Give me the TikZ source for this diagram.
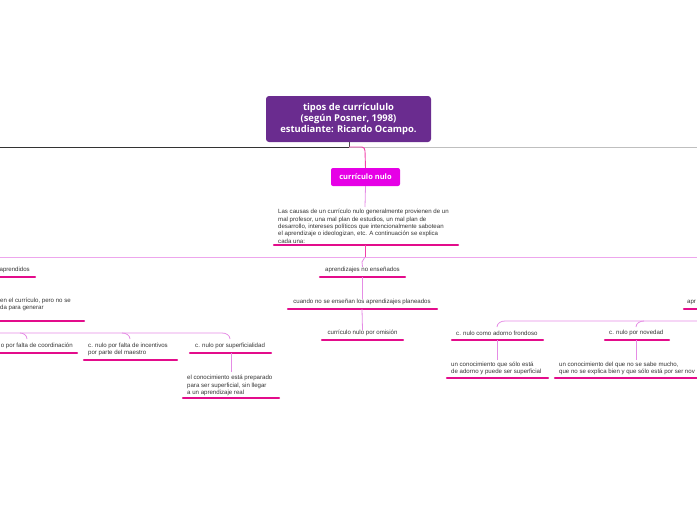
\documentclass[tikz,border=0pt]{standalone}
\usepackage{fontspec}
\setmainfont{Liberation Sans}
\newfontfamily\titlefont{Open Sans}
\begin{document}
\begin{tikzpicture}[x=1pt,y=-1pt,
  txt/.style={inner sep=0pt,font=\fontsize{6.1}{7.4}\selectfont,text=black!80,align=left},
  ul/.style={draw=magenta!90!violet,line width=2.2pt,line cap=round},
  con/.style={draw=violet!45!magenta!45,line width=0.8pt},
  conm/.style={draw=magenta!75,line width=0.9pt}]
\useasboundingbox (0,0) rectangle (697,520);
\clip (0,0) rectangle (697,520);
\definecolor{rootc}{HTML}{6A2C8F}
\definecolor{mag}{HTML}{E600E6}
% root
\node[fill=rootc,rounded corners=3pt,minimum width=165pt,minimum height=46pt,text=white,font=\titlefont\bfseries\fontsize{9.4}{11}\selectfont,align=center,inner sep=0pt] (root) at (348.5,119) {tipos de currícululo\\ (según Posner, 1998)\\ estudiante: Ricardo Ocampo.};
\coordinate (hb) at (349,147);
\coordinate (hl) at (0,147);
\coordinate (hr) at (697,147);
\draw[draw=black!70,line width=0.7pt] (root.south -| hb) -- (hb);
\draw[draw=black!80,line width=0.7pt] (hl) -- (hb);
\draw[draw=black!25,line width=0.7pt] (hb) -- (hr);
% curriculo nulo
\node[fill=mag,rounded corners=2pt,minimum width=69pt,minimum height=18pt,text=white,font=\titlefont\bfseries\fontsize{7.5}{8}\selectfont,inner sep=0pt] (nulo) at (365.5,177) {currículo nulo};
\draw[conm] (hb) -- (362,147) to[out=0,in=90] (365,151) -- (nulo.north);
% causes
\node[txt,anchor=north west] (causas) at (278,209) {Las causas de un currículo nulo generalmente provienen de un\\mal profesor, una mal plan de estudios, un mal plan de\\desarrollo, intereses políticos que intencionalmente sabotean\\el aprendizaje o ideologizan, etc. A continuación se explica\\cada una:};
\coordinate (cu1) at (274,245); \coordinate (cu2) at (458,245);
\draw[ul] (cu1) -- (cu2);
\draw[con] (nulo.south) -- (365,207);
\coordinate (h2) at (365,257);
\coordinate (h2l) at (0,257); \coordinate (h2r) at (697,257);
\draw[conm] (365,245) -- (h2);
\draw[con,draw=violet!40!magenta!35] (h2l) -- (h2r);
% center column
\node[txt] (a1) at (362.5,270) {aprendizajes no enseñados};
\draw[ul] (320,277) -- (405,277);
\draw[con] (h2) -- (362,262) -- (a1.north);
\node[txt] (a2) at (362,302) {cuando no se enseñan los aprendizajes planeados};
\draw[ul] (288,309) -- (437,309);
\draw[con] (362,277) -- (a2.north);
\node[txt] (a3) at (362.5,333) {currículo nulo por omisión};
\draw[ul] (322,340) -- (403,340);
\draw[con] (362,309) -- (a3.north);
% left column
\node[txt,anchor=east] (l1) at (30,270) {aprendidos};
\draw[ul] (-2,277) -- (35,277);
\node[txt,anchor=west] (l2) at (0,304.5) {en el currículo, pero no se\\da para generar};
\draw[ul] (-2,321) -- (84,321);
\coordinate (lc) at (0,333);
\draw[con] (lc) -- (222,333) to[out=0,in=90] (230,339);
\draw[con] (20,333) to[out=0,in=90] (27,339);
\draw[con] (122,333) to[out=0,in=90] (130,339);
\node[txt,anchor=east] (l3) at (73,346) {o por falta de coordinación};
\draw[ul] (-2,353) -- (77,353);
\node[txt,anchor=west] (l4) at (88,349.5) {c. nulo por falta de incentivos\\por parte del maestro};
\draw[ul] (84,360) -- (177,360);
\node[txt,anchor=west] (l5) at (195,346) {c. nulo por superficialidad};
\draw[ul] (190,353) -- (271,353);
\node[txt,anchor=north west] (l6) at (187,375) {el conocimiento está preparado\\para ser superficial, sin llegar\\a un aprendizaje real};
\draw[ul] (183,398) -- (279,398);
\draw[con] (231,353) -- (231,372);
% right column
\node[txt,anchor=west] (r1) at (687,302) {apr};
\draw[ul] (684,309) -- (699,309);
\draw[con] (697,321) -- (505,321) to[out=180,in=90] (497,327);
\draw[con] (644,321) to[out=180,in=90] (636,327);
\node[txt,anchor=west] (r2) at (456,333) {c. nulo como adorno frondoso};
\draw[ul] (452,340) -- (543,340);
\draw[con] (497,340) -- (497,360);
\node[txt,anchor=west] (r3) at (451,368.5) {un conocimiento que sólo está\\de adorno y puede ser superficial};
\draw[ul] (447,378) -- (548,378);
\node[txt,anchor=west] (r4) at (609,333) {c. nulo por novedad};
\draw[ul] (605,340) -- (669,340);
\draw[con] (636,340) -- (636,360);
\node[txt,anchor=west] (r5) at (559,368.5) {un conocimiento del que no se sabe mucho,\\que no se explica bien y que sólo está por ser nov};
\draw[ul] (555,378) -- (699,378);
\end{tikzpicture}
\end{document}
